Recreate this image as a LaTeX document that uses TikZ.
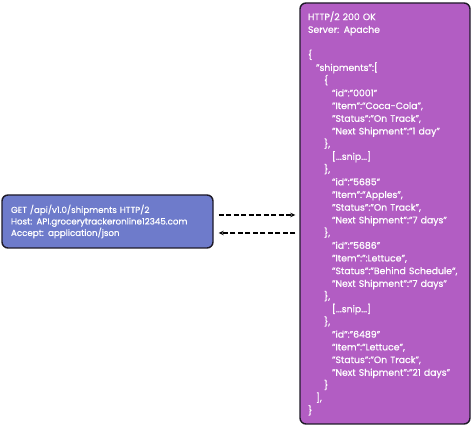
\documentclass[tikz,border=0pt]{standalone}
\usepackage{fontspec}
\setmainfont{Poppins}[FakeBold=0.7]
\usepackage{tikz}
\usetikzlibrary{arrows.meta}

\definecolor{reqblue}{RGB}{110,123,203}
\definecolor{respviolet}{RGB}{178,93,195}
\definecolor{edgedark}{RGB}{30,26,40}
\newcommand{\lvl}[1]{\hspace*{#1\dimexpr 8pt\relax}}

\begin{document}
\begin{tikzpicture}[
        x=1pt, y=1pt,
        every node/.style={text=white, align=left},
        box/.style={draw=edgedark, line width=1.4pt, rounded corners=6pt, inner sep=0pt},
        msg/.style={draw=black, dash pattern=on 5pt off 2.5pt, line width=1.1pt, -{Stealth[length=5pt,width=4.5pt]}}
        ]
        \useasboundingbox (0,0) rectangle (474,427);

        % Request
        \node[box, fill=reqblue, minimum width=211pt, minimum height=53pt, text width=193pt,
        font=\fontsize{8.7}{11.5}\selectfont] (req) at (107.5,205.5)
        {GET /api/v1.0/shipments HTTP/2\\ Host: API.grocerytrackeronline12345.com\\ Accept: application/json};

        % Response
        \node[box, fill=respviolet, minimum width=170pt, minimum height=421pt, text width=154pt,
        font=\fontsize{9.3}{12.7}\selectfont] (resp) at (385,213.5)
        {HTTP/2 200 OK\\ Server: Apache\\[12.7pt]
        \{\\
        \lvl1"shipments":[\\
        \lvl2\{\\
        \lvl3"id":"0001"\\
        \lvl3"Item":"Coca-Cola",\\
        \lvl3"Status":"On Track",\\
        \lvl3"Next Shipment":"1 day"\\
        \lvl2\},\\
        \lvl3[...snip...]\\
        \lvl2\},\\
        \lvl3"id":"5685"\\
        \lvl3"Item":"Apples",\\
        \lvl3"Status":"On Track",\\
        \lvl3"Next Shipment":"7 days"\\
        \lvl2\},\\
        \lvl3"id":"5686"\\
        \lvl3"Item":":Lettuce",\\
        \lvl3"Status":"Behind Schedule",\\
        \lvl3"Next Shipment":"7 days"\\
        \lvl2\},\\
        \lvl3[...snip...]\\
        \lvl2\},\\
        \lvl3"id":"6489"\\
        \lvl3"Item":"Lettuce",\\
        \lvl3"Status":"On Track",\\
        \lvl3"Next Shipment":"21 days"\\
        \lvl2\}\\
        \lvl1],\\
        \}};

        % Messages
        \coordinate (reqout) at ([yshift=6.5pt]req.east);
        \coordinate (reqin) at ([yshift=-11.5pt]req.east);
        \draw[msg, shorten <=5pt, shorten >=4pt] (reqout) -- (reqout -| resp.west);
        \draw[msg, shorten <=4pt, shorten >=5pt] (reqin -| resp.west) -- (reqin);
    \end{tikzpicture}
\end{document}
